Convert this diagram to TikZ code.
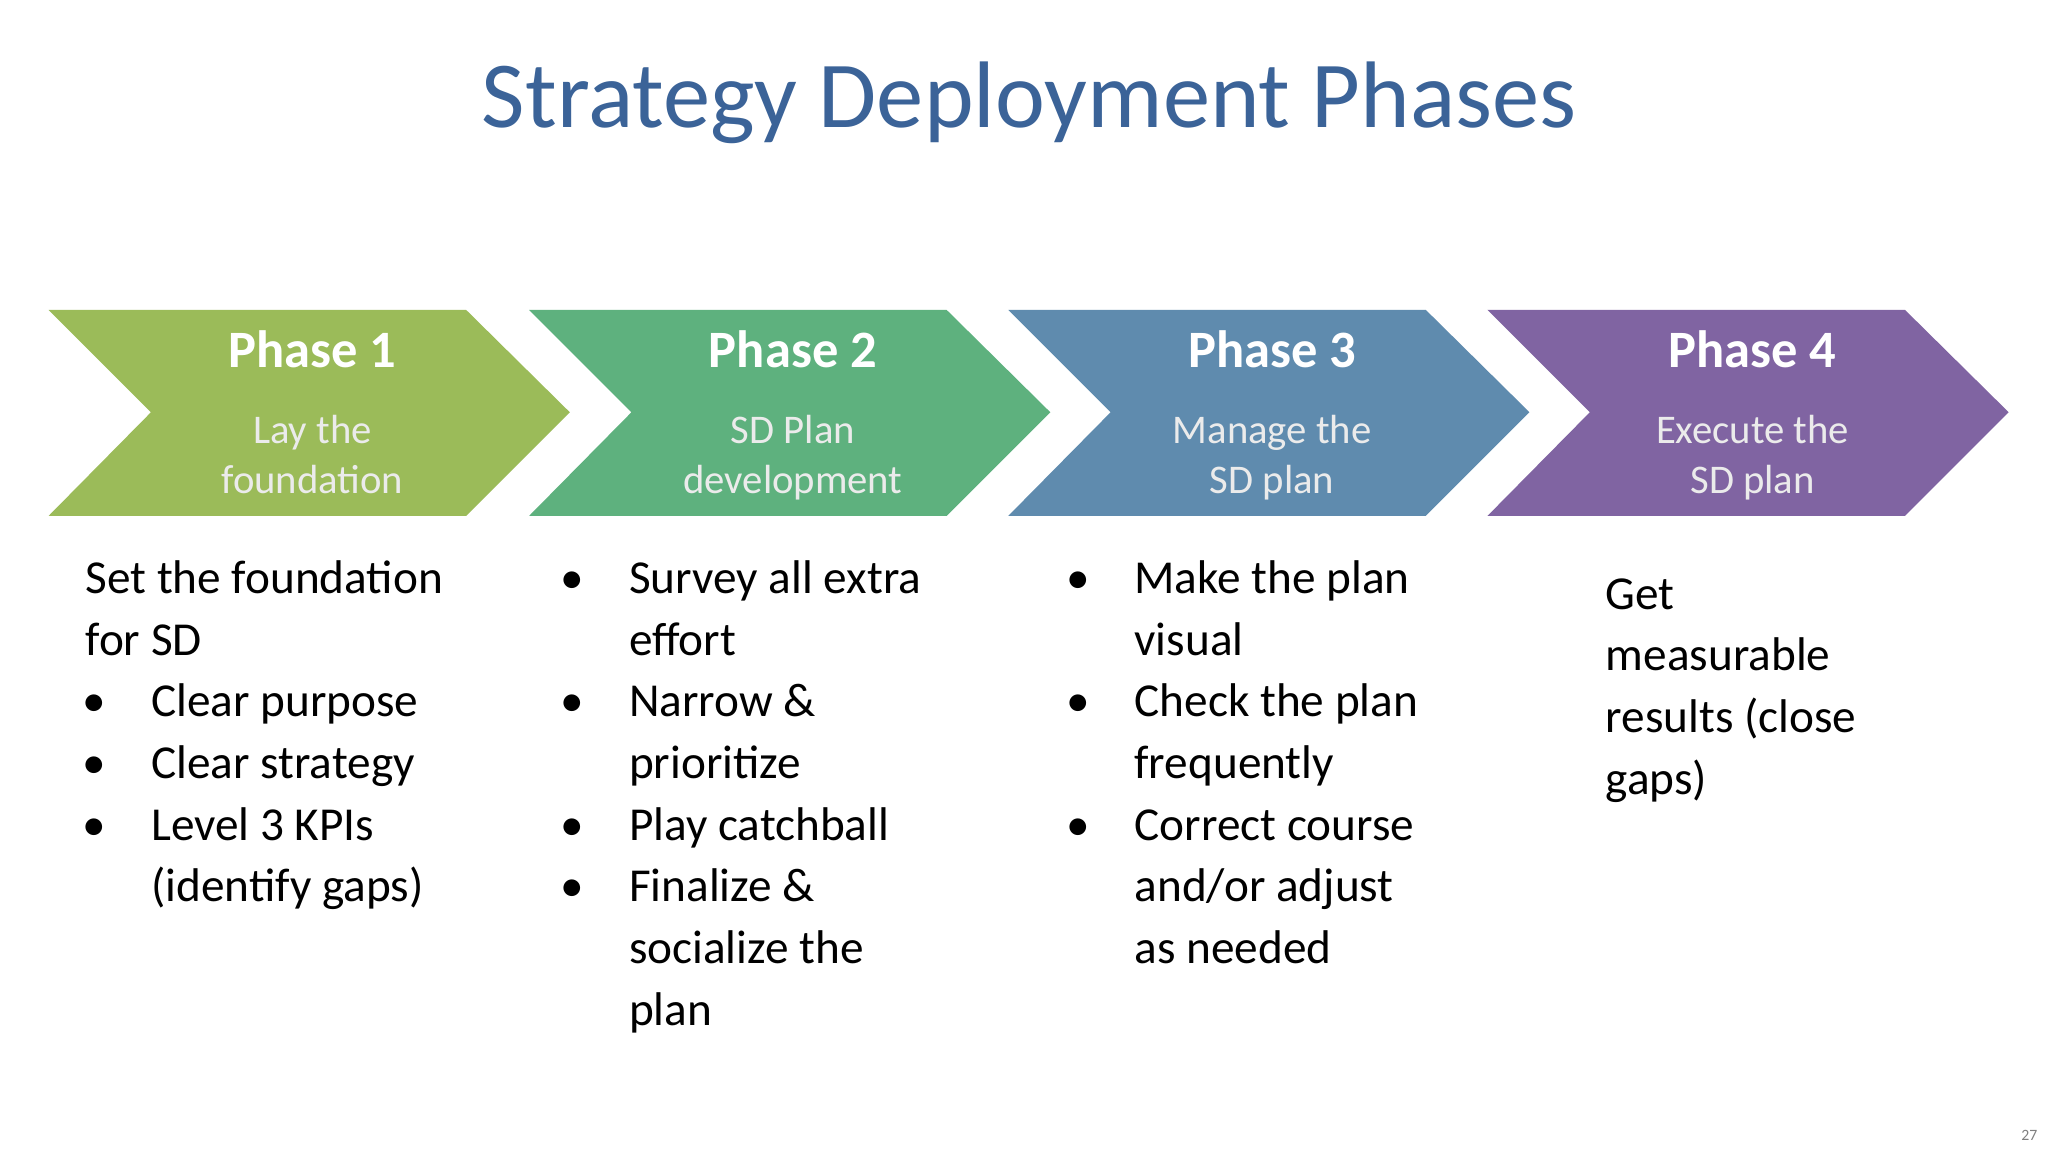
\documentclass[tikz,border=0pt]{standalone}
\usepackage{fontspec}
\setmainfont{Carlito}
\begin{document}
\begin{tikzpicture}[x=1pt,y=-1pt,
  ttl/.style={text=white,font=\fontsize{40}{48}\selectfont\bfseries,anchor=base},
  sub/.style={text=white!92!black,font=\fontsize{31}{38}\selectfont,anchor=base},
  body/.style={anchor=base west,inner sep=0pt,font=\fontsize{36}{44}\selectfont},
  bul/.style={anchor=base,inner sep=0pt,font=\fontsize{36}{44}\selectfont}]
\useasboundingbox (0,0) rectangle (1560,877.5);
\fill[white] (0,0) rectangle (1560,877.5);
\node[text={rgb,255:red,59;green,99;blue,152},font=\fontsize{72}{80}\selectfont,anchor=base] (title) at (784,97) {Strategy Deployment Phases};
\definecolor{c1}{HTML}{9BBB59}
\definecolor{c2}{HTML}{5EB17E}
\definecolor{c3}{HTML}{5F8BAE}
\definecolor{c4}{HTML}{8064A2}
\foreach \i/\x in {1/37,2/403,3/768,4/1133}{
  \fill[c\i] (\x,236) -- (\x+318,236) -- (\x+397,314) -- (\x+318,393) -- (\x,393) -- (\x+78,314) -- cycle;
}
\node[ttl] (p1) at (238,280) {Phase 1};
\node[ttl] (p2) at (604,280) {Phase 2};
\node[ttl] (p3) at (969,280) {Phase 3};
\node[ttl] (p4) at (1335,280) {Phase 4};
\node[sub] (s1a) at (238,338) {Lay the};
\node[sub] (s1b) at (238,376) {foundation};
\node[sub] (s2a) at (604,338) {SD Plan};
\node[sub] (s2b) at (604,376) {development};
\node[sub] (s3a) at (969,338) {Manage the};
\node[sub] (s3b) at (969,376) {SD plan};
\node[sub] (s4a) at (1335,338) {Execute the};
\node[sub] (s4b) at (1335,376) {SD plan};
% column 1
\node[body] (a1) at (65,452) {Set the foundation};
\node[body] (a2) at (65,499) {for SD};
\node[bul] (ab1) at (72,546) {•}; \node[body] (a3) at (115,546) {Clear purpose};
\node[bul] (ab2) at (72,593) {•}; \node[body] (a4) at (115,593) {Clear strategy};
\node[bul] (ab3) at (72,640) {•}; \node[body] (a5) at (115,640) {Level 3 KPIs};
\node[body] (a6) at (115,687) {(identify gaps)};
% column 2
\node[bul] (bb1) at (436,452) {•}; \node[body] (b1) at (479,452) {Survey all extra};
\node[body] (b2) at (479,499) {effort};
\node[bul] (bb2) at (436,546) {•}; \node[body] (b3) at (479,546) {Narrow \&};
\node[body] (b4) at (479,593) {prioritize};
\node[bul] (bb3) at (436,640) {•}; \node[body] (b5) at (479,640) {Play catchball};
\node[bul] (bb4) at (436,687) {•}; \node[body] (b6) at (479,687) {Finalize \&};
\node[body] (b7) at (479,734) {socialize the};
\node[body] (b8) at (479,781) {plan};
% column 3
\node[bul] (cb1) at (821,452) {•}; \node[body] (c1) at (864,452) {Make the plan};
\node[body] (c2) at (864,499) {visual};
\node[bul] (cb2) at (821,546) {•}; \node[body] (c3) at (864,546) {Check the plan};
\node[body] (c4) at (864,593) {frequently};
\node[bul] (cb3) at (821,640) {•}; \node[body] (c5) at (864,640) {Correct course};
\node[body] (c6) at (864,687) {and/or adjust};
\node[body] (c7) at (864,734) {as needed};
% column 4
\node[body] (d1) at (1223,464) {Get};
\node[body] (d2) at (1223,511) {measurable};
\node[body] (d3) at (1223,558) {results (close};
\node[body] (d4) at (1223,605) {gaps)};
\node[anchor=base east,inner sep=0pt,text=gray,font=\fontsize{12}{14}\selectfont] (pg) at (1552,869) {27};
\end{tikzpicture}
\end{document}
